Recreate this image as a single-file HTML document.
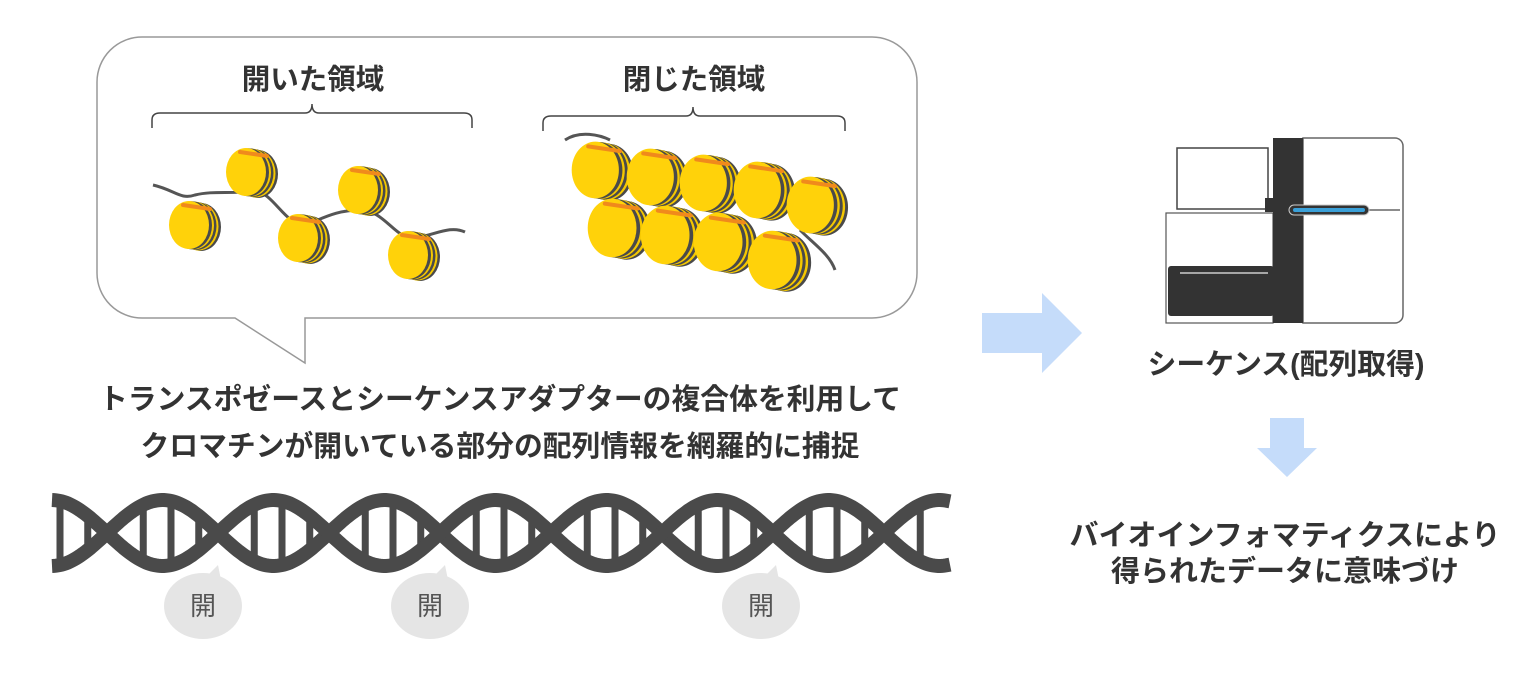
<!DOCTYPE html>
<html><head><meta charset="utf-8"><style>
html,body{margin:0;padding:0;background:#fff}
body{width:1536px;height:685px;position:relative;overflow:hidden;font-family:"Liberation Sans","Noto Sans CJK JP",sans-serif;color:#333}
.t{position:absolute;font-weight:bold;white-space:nowrap;transform:translateX(-50%)}
</style></head><body>
<svg id="s" width="1536" height="685" style="position:absolute;left:0;top:0">
<defs>
<g id="nuc">
<ellipse cx="8" cy="2" rx="20" ry="24" fill="#4a4a4a"/>
<ellipse cx="5.5" cy="1.5" rx="20" ry="24" fill="#f5c800"/>
<ellipse cx="3.5" cy="1" rx="20" ry="24" fill="#4a4a4a"/>
<ellipse cx="1" cy="0.5" rx="20" ry="24" fill="#f5c800"/>
<ellipse cx="-1" cy="0.3" rx="20" ry="24" fill="#4a4a4a"/>
<ellipse cx="-4" cy="0" rx="20" ry="24" fill="#ffd20a"/>
</g>
</defs>
<path d="M142,37 H872 A45,45 0 0 1 917,82 V273 A45,45 0 0 1 872,318 H305 V363 L235,318 H142 A45,45 0 0 1 97,273 V82 A45,45 0 0 1 142,37 Z" fill="#fff" stroke="#999" stroke-width="1.5"/>
<path d="M152,128 V120 Q152,113 160,113 H305 Q312,113 312,104 Q312,113 319,113 H464 Q472,113 472,120 V128" fill="none" stroke="#444" stroke-width="1.5"/>
<path d="M543,131 V123 Q543,116 551,116 H686 Q693,116 693,107 Q693,116 700,116 H837 Q845,116 845,123 V131" fill="none" stroke="#444" stroke-width="1.5"/>
<path d="M153,185 C175,190 180,200 195,195 C215,190 235,195 255,190 C275,195 285,225 305,225 C320,220 335,210 360,210 C385,210 395,240 415,238 C435,235 450,225 465,232" fill="none" stroke="#555" stroke-width="3"/>
<g id="open"></g>
<path d="M565,140 C580,130 600,135 610,140 M800,230 C815,245 830,255 835,270" fill="none" stroke="#555" stroke-width="3"/>
<g id="closed"></g>
<g id="dna"></g>
<g fill="#e5e5e5">
<ellipse cx="203" cy="606" rx="39" ry="33"/><path d="M205,578 L218,565 L222,585 Z"/>
<ellipse cx="430" cy="606" rx="39" ry="33"/><path d="M432,578 L445,565 L449,585 Z"/>
<ellipse cx="761" cy="606" rx="39" ry="33"/><path d="M763,578 L776,565 L780,585 Z"/>
</g>
<g font-size="26" fill="#555" text-anchor="middle" font-family="Liberation Sans,Noto Sans CJK JP,sans-serif">
<text x="203" y="615">開</text><text x="430" y="615">開</text><text x="761" y="615">開</text>
</g>
<path d="M982,313 H1042 V293 L1082,333 L1042,373 V353 H982 Z" fill="#c5dcfa"/>
<path d="M1270,418 H1304 V448 H1317 L1287,477 L1257,448 H1270 Z" fill="#c5dcfa"/>
<rect x="1177" y="148" width="91" height="61" fill="#fff" stroke="#444" stroke-width="1.5"/>
<rect x="1265" y="198" width="8" height="14" fill="#333"/>
<rect x="1166" y="213" width="107" height="110" fill="#fff" stroke="#555" stroke-width="1.2"/>
<rect x="1168" y="266" width="106" height="50" rx="3" fill="#333"/>
<line x1="1180" y1="273" x2="1268" y2="273" stroke="#ccc" stroke-width="1.5"/>
<path d="M1303,138 H1395 A8,8 0 0 1 1403,146 V315 A8,8 0 0 1 1395,323 H1303 Z" fill="#fff" stroke="#666" stroke-width="1.5"/>
<rect x="1273" y="138" width="30" height="185" fill="#333"/>
<line x1="1368" y1="210" x2="1400" y2="210" stroke="#666" stroke-width="1.5"/>
<rect x="1289" y="205" width="80" height="10" rx="5" fill="#333" stroke="#ccc" stroke-width="1"/>
<rect x="1293" y="208" width="72" height="4" rx="2" fill="#3aa0d8"/>
</svg>
<div class="t" style="left:313px;top:57px;font-size:28.5px">開いた領域</div>
<div class="t" style="left:694px;top:57px;font-size:28.5px">閉じた領域</div>
<div class="t" style="left:500px;top:377px;font-size:28.8px">トランスポゼースとシーケンスアダプターの複合体を利用して</div>
<div class="t" style="left:500px;top:424px;font-size:28.8px">クロマチンが開いている部分の配列情報を網羅的に捕捉</div>
<div class="t" style="left:1286px;top:342px;font-size:28.8px">シーケンス(配列取得)</div>
<div class="t" style="left:1285px;top:512px;font-size:29px">バイオインフォマティクスにより</div>
<div class="t" style="left:1285px;top:548px;font-size:29px">得られたデータに意味づけ</div>
<script>
var NS="http://www.w3.org/2000/svg";
function nuc(g,x,y,sc){
 var u=document.createElementNS(NS,"use");u.setAttribute("href","#nuc");
 u.setAttribute("transform","translate("+x+","+y+") scale("+sc+")");g.appendChild(u);
 var l=document.createElementNS(NS,"line");
 l.setAttribute("x1",x-10*sc);l.setAttribute("y1",y-20*sc);l.setAttribute("x2",x+17*sc);l.setAttribute("y2",y-16*sc);
 l.setAttribute("stroke","#f08a1c");l.setAttribute("stroke-width","4");l.setAttribute("stroke-linecap","round");g.appendChild(l);
}
var o=document.getElementById("open");
[[193,225],[250,172],[302,238],[362,190],[412,255]].forEach(function(p){nuc(o,p[0],p[1],1)});
var c=document.getElementById("closed");
[[600,170],[655,177],[708,183],[762,190],[815,205]].forEach(function(p){nuc(c,p[0],p[1],1.18)});
[[617,228],[670,235],[723,242],[777,260]].forEach(function(p){nuc(c,p[0],p[1],1.22)});
var d=document.getElementById("dna");
var P=222,x0=107,cy=533,A=33;
function y1(x){return cy-A*Math.sin(2*Math.PI*(x-x0)/P)}
function y2(x){return cy+A*Math.sin(2*Math.PI*(x-x0)/P)}
for(var x=60;x<946;x+=27.75){
 var ph=((x-x0)%(P/2)+P/2)%(P/2);
 if(ph<14||ph>P/2-14)continue;
 var a=y1(x),b=y2(x);
 var r=document.createElementNS(NS,"rect");
 r.setAttribute("x",x-3.5);r.setAttribute("width",7);
 r.setAttribute("y",Math.min(a,b));r.setAttribute("height",Math.abs(a-b));
 r.setAttribute("fill","#4a4a4a");d.appendChild(r);
}
[y1,y2].forEach(function(f){
 var s="";for(var x=52;x<=950;x+=2){s+=(s?"L":"M")+x+","+f(x).toFixed(1)}
 var p=document.createElementNS(NS,"path");p.setAttribute("d",s);
 p.setAttribute("fill","none");p.setAttribute("stroke","#4a4a4a");p.setAttribute("stroke-width","14");
 d.appendChild(p);
});
</script>
</body></html>
